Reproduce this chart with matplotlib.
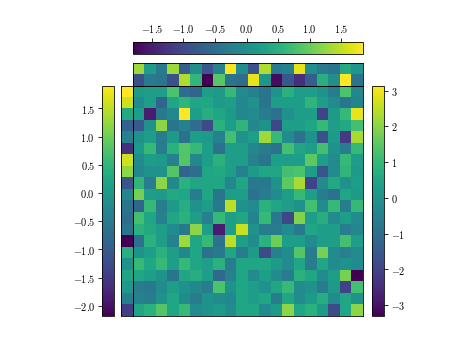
import numpy as np
import matplotlib
matplotlib.use('Agg')
import matplotlib.pyplot as plt
from matplotlib.ticker import FuncFormatter

plt.rcParams['mathtext.fontset'] = 'cm'
plt.rcParams['font.size'] = 10

# Main 20x20 heatmap values (row 0 = top)
main_rows = [
    [0.2, 0.3, 0.3, 1.3, -1.0, -1.2, 0.3, 0.2, 1.0, -0.2, -0.5, -0.8, 0.0, 0.8, 0.3, 0.3, 0.0, -0.6, 1.3, -0.3],
    [-0.2, 0.3, -1.2, 0.5, 0.9, 0.5, 0.5, 0.2, 0.3, -0.3, 0.0, -0.8, 0.3, 0.3, 0.3, 0.9, 0.3, -0.2, -0.8, -0.4],
    [0.3, -2.8, -0.7, -0.3, 3.13, 0.3, 0.7, 0.5, 0.2, -0.3, -0.2, -0.6, -0.9, 0.0, 0.3, 0.3, -2.0, 0.2, 1.0, 2.9],
    [-1.5, 0.0, 2.0, -0.8, -0.5, -1.0, -1.8, 0.8, 0.3, 0.9, -0.3, 0.0, -1.9, 0.3, 0.3, 0.5, 1.0, 0.3, 0.6, 1.2],
    [0.0, 0.3, -0.6, 0.2, -0.9, 0.3, 0.2, -0.5, 1.2, 0.0, 0.3, 2.2, 1.0, -0.2, -0.9, 0.0, -1.7, 0.2, -2.2, 2.3],
    [0.2, 1.0, -0.6, 0.8, 1.4, 1.0, 0.3, -0.9, 0.3, 0.3, -0.3, -0.6, -0.9, 1.2, 0.5, 0.3, 1.2, 0.0, -0.6, 1.0],
    [-0.2, 0.3, 0.2, -0.5, 1.4, -0.3, 0.3, 0.8, 0.3, 0.3, -0.5, -0.8, 0.3, 0.3, 0.3, 1.5, 0.3, -0.2, 1.0, 0.3],
    [-0.3, 0.0, 0.0, 1.4, -1.2, -1.0, 0.5, 0.6, 0.3, -0.5, 0.2, 0.5, 0.5, 1.2, 1.3, 0.3, -1.6, -0.2, 0.9, 0.2],
    [0.9, -0.6, 2.0, -0.3, 0.8, 0.5, 0.5, 0.5, -0.3, 0.5, -0.7, -0.7, 0.0, 1.5, 2.3, -2.0, -0.2, 0.6, 0.0, 0.3],
    [1.8, 0.3, 0.2, 0.6, 0.5, -0.6, 0.5, -0.8, 0.3, 0.3, -0.9, -0.6, -0.2, 0.3, 1.0, 0.3, -0.6, -0.9, 0.5, 0.2],
    [-1.2, 1.0, -0.6, 0.2, 0.7, 0.0, 0.3, -0.7, 2.5, 0.0, -0.2, 0.8, 0.5, 0.3, 0.0, 1.2, -0.2, 1.0, -0.6, 1.0],
    [1.2, 0.5, -0.5, 0.5, 0.8, 0.3, -0.5, 1.0, 0.3, 0.5, -0.4, 1.0, -0.7, -1.9, 1.9, 0.3, 0.7, -0.2, 0.3, -0.2],
    [0.8, 0.6, 0.3, -0.2, -0.7, 2.0, 0.3, -2.8, 0.3, 2.6, 0.0, -0.6, -0.6, -0.2, -0.7, 0.5, 0.3, 0.3, -0.6, -0.3],
    [-0.9, 0.8, 0.3, -0.5, 2.2, 0.5, 1.0, -0.9, 2.5, 0.3, -0.2, 0.8, 1.7, 0.3, 0.3, -0.2, 0.3, 0.3, 1.2, 0.3],
    [0.0, 0.3, 0.8, 0.3, -0.3, 0.5, -0.9, -0.7, 0.5, -0.6, 0.2, -1.8, -0.5, -0.2, 1.4, -0.6, 1.8, -0.2, -0.5, -0.2],
    [1.0, 0.5, 1.0, 0.3, 1.0, 0.5, 0.3, 0.8, -0.6, 0.5, 0.5, 0.5, 0.2, -0.2, 0.5, -0.6, 0.5, -0.2, 0.0, -0.2],
    [0.5, 0.3, 0.0, -0.8, 0.5, 0.7, 0.3, -1.1, -0.5, 0.5, -0.2, 0.3, -0.2, -0.6, 0.8, 0.5, -0.2, 0.3, 1.8, -3.3],
    [-0.6, -0.7, -0.2, 0.3, 0.0, -0.3, -0.6, 1.3, 0.0, 0.5, 0.3, 0.0, 0.5, 1.0, -0.2, 0.0, -0.6, 0.2, -2.0, 1.2],
    [-0.5, -0.6, 0.0, 0.5, -0.2, -0.6, 0.0, -0.2, -0.3, 0.5, 0.3, 0.5, -0.6, 0.5, -0.2, 0.2, 0.7, -0.2, 0.5, 0.0],
    [0.5, 0.8, 1.4, 0.5, 1.0, -0.2, 0.0, 0.2, -0.2, 0.5, 0.5, -0.2, 0.2, 2.0, 0.5, 0.8, 0.2, -1.8, 0.5, 2.0],
]

# Top marginal: 2 rows x 20 columns
top_rows = [
    [1.3, 0.2, -0.3, 1.3, -0.7, 0.0, -0.8, -0.2, 1.8, 0.0, -0.9, 1.4, -0.3, -0.2, 1.7, 0.0, -0.3, -0.4, 0.4, 0.1],
    [-0.9, -0.3, -0.4, -0.9, 1.4, 0.6, -1.8, 0.9, -0.4, -0.5, 1.7, 0.1, -1.7, -0.8, -1.3, -0.7, 0.5, 0.0, 1.84, -0.4],
]

# Left marginal: 20 rows x 1 column
left_col = [1.9, 1.6, 0.3, -0.9, -0.4, -1.6, 1.6, 1.2, -1.1, -0.3,
            -0.6, -0.7, -0.6, -2.18, 0.4, -0.1, 0.2, 0.0, -0.4, -1.4]

top_ticks = [-1.5, -1.0, -0.5, 0.0, 0.5, 1.0, 1.5]
left_ticks = [-2.0, -1.5, -1.0, -0.5, 0.0, 0.5, 1.0, 1.5]
main_ticks = [-3, -2, -1, 0, 1, 2, 3]

fig = plt.figure(figsize=(6.4, 4.8), dpi=74)
W, H = 474.0, 355.0


def ax_px(x0, y0, x1, y1):
    return fig.add_axes([x0 / W, 1 - y1 / H, (x1 - x0) / W, (y1 - y0) / H])


def fmt1(x, pos):
    return r'$%.1f$' % x


def fmt0(x, pos):
    return r'$%d$' % int(round(x))


cmap = 'viridis'

ax_main = ax_px(133, 86, 363, 316)
im_main = ax_main.imshow(np.array(main_rows), cmap=cmap, aspect='auto', interpolation='nearest')
ax_main.set_xticks([])
ax_main.set_yticks([])

ax_top = ax_px(133, 63, 363, 86)
im_top = ax_top.imshow(np.array(top_rows), cmap=cmap, aspect='auto', interpolation='nearest')
ax_top.set_xticks([])
ax_top.set_yticks([])

ax_left = ax_px(121.5, 86, 133, 316)
im_left = ax_left.imshow(np.array(left_col).reshape(-1, 1), cmap=cmap, aspect='auto', interpolation='nearest')
ax_left.set_xticks([])
ax_left.set_yticks([])

cax_top = ax_px(133, 42.5, 363, 54)
cb_top = fig.colorbar(im_top, cax=cax_top, orientation='horizontal')
cb_top.ax.xaxis.set_ticks_position('top')
cb_top.set_ticks(top_ticks)
cb_top.ax.xaxis.set_major_formatter(FuncFormatter(fmt1))

cax_left = ax_px(102.5, 86, 114, 316)
cb_left = fig.colorbar(im_left, cax=cax_left, orientation='vertical')
cb_left.ax.yaxis.set_ticks_position('left')
cb_left.set_ticks(left_ticks)
cb_left.ax.yaxis.set_major_formatter(FuncFormatter(fmt1))

cax_right = ax_px(372, 86, 384, 316)
cb_right = fig.colorbar(im_main, cax=cax_right, orientation='vertical')
cb_right.set_ticks(main_ticks)
cb_right.ax.yaxis.set_major_formatter(FuncFormatter(fmt0))

fig.savefig('out.png', dpi=74)
